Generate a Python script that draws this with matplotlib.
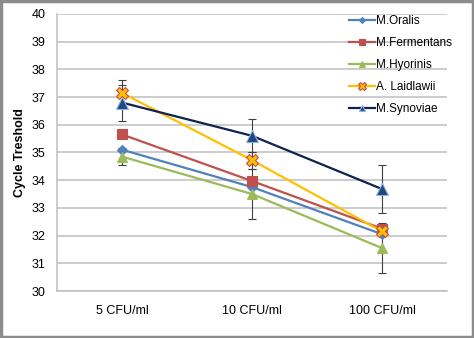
import matplotlib
matplotlib.use("Agg")
import matplotlib.pyplot as plt
from matplotlib.patches import Rectangle

plt.rcParams['font.family'] = ['Liberation Sans', 'DejaVu Sans']

categories = ["5 CFU/ml", "10 CFU/ml", "100 CFU/ml"]
series_names = ["M.Oralis", "M.Fermentans", "M.Hyorinis", "A. Laidlawii", "M.Synoviae"]

oralis = [35.1, 33.75, 32.05]
fermentans = [35.65, 33.97, 32.25]
hyorinis = [34.85, 33.5, 31.55]
laidlawii = [37.15, 34.72, 32.15]
synoviae = [36.8, 35.6, 33.68]

# error bars (only visible for a few series)
err_hyorinis = [0.3, 0.9, 0.9]
err_laidlawii = [0.45, 0.3, 0.1]
err_synoviae = [0.65, 0.6, 0.85]

fig = plt.figure(figsize=(4.74, 3.38), dpi=100)
ax = fig.add_axes([0.120, 0.139, 0.823, 0.820])

x = list(range(len(categories)))

# error bars first so the markers sit on top
for vals, errs in [(hyorinis, err_hyorinis), (laidlawii, err_laidlawii), (synoviae, err_synoviae)]:
    ax.errorbar(x, vals, yerr=errs, fmt='none', ecolor='#404040', elinewidth=0.8,
                capsize=3, capthick=0.8, zorder=2)

styles = [
    (oralis, '#4f81bd', 'D', 5, '#4f81bd', '#4f81bd'),
    (fermentans, '#c0504d', 's', 7, '#c0504d', '#c0504d'),
    (hyorinis, '#9bbb59', '^', 7, '#9bbb59', '#9bbb59'),
    (laidlawii, '#ffc000', 'X', 9, '#ffc000', '#c0504d'),
    (synoviae, '#0f2350', '^', 8, '#1f497d', '#8eb4e3'),
]

for (vals, col, mk, ms, fc, ec), name in zip(styles, series_names):
    ax.plot(x, vals, color=col, lw=1.6, marker=mk, markersize=ms,
            markerfacecolor=fc, markeredgecolor=ec, markeredgewidth=0.8,
            label=name, zorder=3)

ax.set_xlim(-0.5, 2.5)
ax.set_ylim(30, 40)
ax.set_yticks(range(30, 41))
ax.set_xticks(x)
ax.set_xticklabels(categories)
ax.tick_params(axis='both', length=0, labelsize=9, colors='#000000')
ax.tick_params(axis='x', pad=10)
ax.tick_params(axis='y', pad=8)
ax.grid(axis='y', color='#bfbfbf', lw=1.1)
ax.set_axisbelow(True)
for s in ['top', 'right']:
    ax.spines[s].set_visible(False)
ax.spines['left'].set_color('#bfbfbf')
ax.spines['bottom'].set_color('#bfbfbf')
ax.spines['left'].set_linewidth(1.1)
ax.spines['bottom'].set_linewidth(1.1)

ax.set_ylabel("Cycle Treshold", fontsize=9, fontweight='bold', labelpad=4)

leg = ax.legend(loc='upper right', bbox_to_anchor=(1.04, 1.035), frameon=False,
                fontsize=8.5, markerscale=0.6, handlelength=2.2, handletextpad=0.1,
                labelspacing=0.85)

# grey frame around the whole picture
fig.patches.append(Rectangle((0.003, 0.004), 0.994, 0.992, transform=fig.transFigure,
                             fill=False, edgecolor='#8c8c8c', lw=2.5))

fig.savefig('out.png', dpi=100)
